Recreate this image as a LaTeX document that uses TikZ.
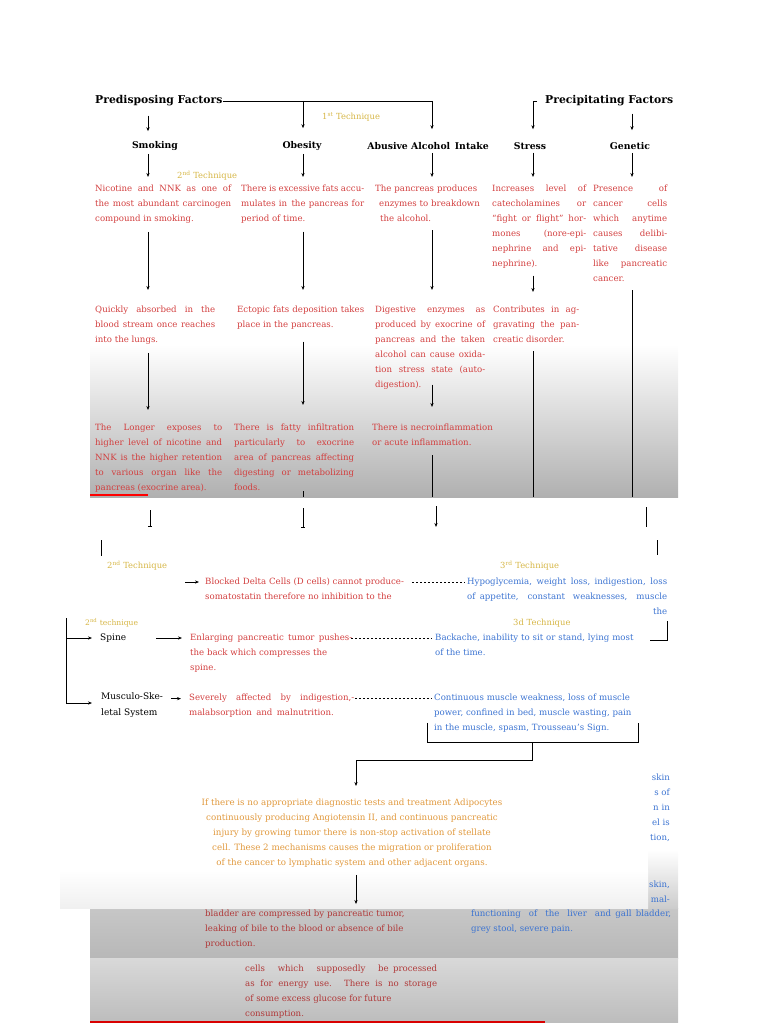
\documentclass[tikz,border=0pt]{standalone}
\usepackage{fontspec}
\setmainfont{DejaVu Serif}
\usepackage{xcolor}
\usetikzlibrary{arrows.meta,positioning,calc}
\definecolor{factred}{HTML}{D23E3E}
\definecolor{deepred}{HTML}{B03838}
\definecolor{signblue}{HTML}{3B73D1}
\definecolor{techgold}{HTML}{D6B646}
\definecolor{spreadorange}{HTML}{E0983C}
\tolerance=10000
\hbadness=10000
\hyphenpenalty=10000
\exhyphenpenalty=10000
\begin{document}
\begin{tikzpicture}[x=1pt,y=-1pt,
  factor/.style={font=\bfseries\fontsize{10.8}{12}\selectfont,inner sep=0pt},
  cause/.style={font=\bfseries\fontsize{9.3}{11}\selectfont,inner sep=0pt},
  effect/.style={text=factred,font=\fontsize{8.6}{15}\selectfont,inner sep=0pt,align=justify,anchor=north west},
  late/.style={effect,text=deepred},
  sign/.style={effect,text=signblue},
  tech/.style={text=techgold,font=\fontsize{8.4}{9}\selectfont,inner sep=0pt,anchor=west},
  organ/.style={font=\fontsize{9}{16}\selectfont,inner sep=0pt,align=left},
  arr/.style={-{Stealth[length=4pt,width=3.2pt]},line width=0.8pt},
  stem/.style={line width=0.8pt},
  dots/.style={line width=0.6pt,dash pattern=on 2pt off 2pt}]
\useasboundingbox (0,0) rectangle (768,1024);
% shaded bands of the page
\shade[top color=white,bottom color=gray!62] (90,345) rectangle (678,497);
\shade[top color=gray!44,bottom color=gray!56] (90,908) rectangle (678,958);
\shade[top color=gray!30,bottom color=gray!52] (90,958) rectangle (678,1022);
\shade[top color=white,bottom color=gray!40] (648,850) rectangle (678,908);
\shade[top color=white,bottom color=gray!12] (60,870) rectangle (648,908);
\draw[red,line width=1.4pt] (90,495) -- (148,495);
\draw[red!85!black,line width=1.2pt] (90,1022) -- (545,1022);

% column lines
\coordinate (cs) at (148,0);
\coordinate (co) at (303,0);
\coordinate (ca) at (432,0);
\coordinate (ct) at (533,0);
\coordinate (cg) at (632,0);
\coordinate (bandfoot) at (0,497);

% factors
\node[factor,anchor=west] (pred) at (95,101) {Predisposing Factors};
\node[factor,anchor=west] (prec) at (545,101) {Precipitating Factors};
\node[tech] (tech1) at (322,117) {1\textsuperscript{st} Technique};
\node[cause] (smoking) at (155,146) {Smoking};
\node[cause] (obesity) at (302,146) {Obesity};
\node[cause] (alcohol) at (428,146) {Abusive Alcohol\enspace Intake};
\node[cause] (stress) at (530,146) {Stress};
\node[cause] (genetic) at (630,146) {Genetic};
\node[tech] (tech2) at (177,176) {2\textsuperscript{nd} Technique};

% first effects
\node[effect,text width=136] (smk1) at (95,185) {Nicotine and NNK as one of\linebreak the most abundant carcinogen\linebreak compound in smoking.};
\node[effect,text width=123] (obs1) at (241,185) {There is excessive fats accu-\linebreak mulates in\enspace the pancreas for\linebreak period of time.};
\node[effect,text width=110,align=left] (alc1) at (375,185) {The pancreas produces\\\hspace*{4pt}enzymes to breakdown\\\hspace*{5pt}the alcohol.};
\node[effect,text width=94] (str1) at (492,185) {Increases level of\linebreak catecholamines or\linebreak ``fight or flight'' hor-\linebreak mones (nore-epi-\linebreak nephrine and epi-\linebreak nephrine).};
\node[effect,text width=74] (gen1) at (593,185) {Presence of\linebreak cancer cells\linebreak which anytime\linebreak causes delibi-\linebreak tative disease\linebreak like pancreatic\linebreak cancer.};

% second effects
\node[effect,text width=120] (smk2) at (95,306) {Quickly absorbed in the\linebreak blood stream once reaches\linebreak into the lungs.};
\node[effect,text width=127] (obs2) at (237,306) {Ectopic fats deposition takes\linebreak place in the pancreas.};
\node[effect,text width=110] (alc2) at (375,306) {Digestive enzymes as\linebreak produced by exocrine of\linebreak pancreas and the taken\linebreak alcohol can cause oxida-\linebreak tion stress state (auto-\linebreak digestion).};
\node[effect,text width=86] (str2) at (493,306) {Contributes in ag-\linebreak gravating the pan-\linebreak creatic disorder.};

% third effects
\node[effect,text width=127] (smk3) at (95,424) {The Longer exposes to\linebreak higher level of nicotine and\linebreak NNK is the higher retention\linebreak to various organ like the\linebreak pancreas (exocrine area).};
\node[effect,text width=120] (obs3) at (234,424) {There is fatty infiltration\linebreak particularly to exocrine\linebreak area of pancreas affecting\linebreak digesting or metabolizing\linebreak foods.};
\node[effect,text width=130,align=left] (alc3) at (372,424) {There is necroinflammation\\or acute inflammation.};

\draw[stem] (pred.east) -- (pred.east -| ca);
\draw[arr,shorten >=13pt] (pred.east -| ca) -- (alcohol.north -| ca);
\draw[arr,shorten >=13pt] (pred.east -| co) -- (obesity.north -| co);
\draw[arr,shorten <=9pt,shorten >=10pt] (pred.south -| cs) -- (smoking.north -| cs);
\draw[arr,shorten >=13pt] ([xshift=-8pt]prec.west) -| (stress.north -| ct);
\draw[arr,shorten <=7pt,shorten >=12pt] (prec.south -| cg) -- (genetic.north -| cg);
\foreach \h/\c/\e in {smoking/cs/smk1,obesity/co/obs1,alcohol/ca/alc1,stress/ct/str1,genetic/cg/gen1}
  \draw[arr,shorten <=3pt,shorten >=8pt] (\h.south -| \c) -- (\e.north -| \c);
\foreach \a/\c/\b in {smk1/cs/smk2,obs1/co/obs2,alc1/ca/alc2}
  \draw[arr,shorten <=8pt,shorten >=16pt] (\a.south -| \c) -- (\b.north -| \c);
\draw[arr,shorten <=7pt,shorten >=14pt] (str1.south -| ct) -- (str2.north -| ct);
\draw[stem,shorten <=8pt] (gen1.south -| cg) -- (bandfoot -| cg);
\draw[arr,shorten <=8pt,shorten >=14pt] (smk2.south -| cs) -- (smk3.north -| cs);
\draw[arr,shorten <=12pt,shorten >=19pt] (obs2.south -| co) -- (obs3.north -| co);
\draw[arr,shorten <=-5pt,shorten >=17pt] (alc2.south -| ca) -- (alc3.north -| ca);
\draw[stem,shorten <=8pt] (str2.south -| ct) -- (bandfoot -| ct);
\draw[stem,shorten <=9pt] (alc3.south -| ca) -- (bandfoot -| ca);
\draw[stem] (obs3.south -| co) -- (bandfoot -| co);

% cut-off stubs under the band
\draw[stem] (150,510) -- (150,526) (148,526) -- (152,526);
\draw[stem] (303,508) -- (303,527) (301,527) -- (305,527);
\draw[arr] (436,506) -- (436,527);
\draw[stem] (646,507) -- (646,527);
\draw[stem] (657,540) -- (657,555);
\draw[stem] (101,540) -- (101,556);

% complications
\node[tech] (tech2b) at (107,566) {2\textsuperscript{nd} Technique};
\node[tech] (tech3) at (500,566) {3\textsuperscript{rd} Technique};
\coordinate (dfrom) at (185,582);
\node[effect,text width=206,align=left] (delta) at (205,578) {Blocked Delta Cells (D cells) cannot produce-\\somatostatin therefore no inhibition to the};
\node[sign,text width=200] (hypo) at (467,578) {Hypoglycemia, weight loss,\enspace indigestion, loss\linebreak of\enspace appetite, constant weaknesses, muscle\linebreak \null\hfill the};
\draw[arr,shorten >=6pt] (dfrom) -- (dfrom -| delta.west);
\draw[dots,shorten <=1pt,shorten >=2pt] (dfrom -| delta.east) -- (dfrom -| hypo.west);

\node[tech] (tech3b) at (513,623) {3d Technique};
\coordinate (brkR) at (667,640);
\draw[stem] (brkR) ++(-17,0) -- (brkR) -- ++(0,-19);
\node[tech,font=\fontsize{7.6}{9}\selectfont] (tech2c) at (85,623) {2\textsuperscript{nd} technique};
\node[organ,anchor=west] (spine) at (100,638) {Spine};
\node[organ,anchor=north west] (musc) at (101,692) {Musculo-Ske-\\letal System};
\coordinate (lbtop) at (66,618);
\coordinate (lbfoot) at (66,703);
\draw[stem] (lbtop) -- (lbfoot);
\draw[arr,shorten >=8pt] (lbtop |- spine) -- (spine.west);
\draw[arr,shorten >=9pt] (lbfoot) -- (lbfoot -| musc.west);

\node[effect,text width=162] (enlarge) at (190,634) {Enlarging pancreatic tumor pushes-\linebreak the back which compresses the\\spine.};
\node[sign,text width=208,align=left] (backache) at (435,634) {Backache, inability to sit or stand, lying most\\of the time.};
\node[effect,text width=165] (severe) at (189,694) {Severely affected by indigestion,-\linebreak malabsorption\enspace and\enspace malnutrition.};
\node[sign,text width=204,align=left] (cont) at (434,694) {Continuous muscle weakness, loss of muscle\\power, confined in bed, muscle wasting, pain\\in the muscle, spasm, Trousseau's Sign.};
\draw[arr,shorten <=30pt,shorten >=8pt] (spine.east) -- (spine.east -| enlarge.west);
\draw[dots,shorten <=-1pt,shorten >=3pt] (spine -| enlarge.east) -- (spine -| backache.west);
\draw[arr,shorten <=8pt,shorten >=8pt] ([yshift=6pt]musc.east) -- ([yshift=6pt]musc.east -| severe.west);
\draw[dots,shorten <=1pt,shorten >=2pt] ([yshift=6pt]musc.east -| severe.east) -- ([yshift=6pt]musc.east -| cont.west);

% spreading of the tumour
\draw[stem] ($(cont.south west)+(-7,-10)$) -- ($(cont.south west)+(-7,10)$) -- ($(cont.south east)+(0,10)$) -- ($(cont.south east)+(0,-10)$);
\node[text=spreadorange,font=\fontsize{8.7}{15}\selectfont,align=center,inner sep=0pt,anchor=north] (spread) at (352,799)
  {If there is no appropriate diagnostic tests and treatment Adipocytes\\continuously producing Angiotensin II, and continuous pancreatic\\injury by growing tumor there is non-stop activation of stellate\\cell. These 2 mechanisms causes the migration or proliferation\\of the cancer to lymphatic system and other adjacent organs.};
\draw[arr,shorten >=13pt] ($(cont.south)+(-4,10)$) -- ++(0,18) -| ([xshift=4pt]spread.north);
\node[sign,align=right,anchor=north east] (skinA) at (670,774) {skin\\s of\\n in\\el is\\tion,};
\node[sign,align=right,anchor=north east] (skinB) at (670,881) {skin,\\mal-};

\node[late,text width=214,align=left] (bladder) at (205,910) {bladder are compressed by pancreatic tumor,\\leaking of bile to the blood or absence of bile\\production.};
\node[sign,text width=200] (liver) at (471,910) {functioning of the liver and\enspace gall\enspace bladder,\linebreak grey stool, severe pain.};
\draw[arr,shorten <=7pt,shorten >=6pt] ([xshift=4pt]spread.south) -- ([xshift=4pt]spread.south |- bladder.north);
\node[late,text width=192] (cells) at (245,965) {cells which supposedly be\enspace processed\linebreak as for energy use. There is no storage\linebreak of some excess glucose for future\\consumption.};
\end{tikzpicture}
\end{document}
